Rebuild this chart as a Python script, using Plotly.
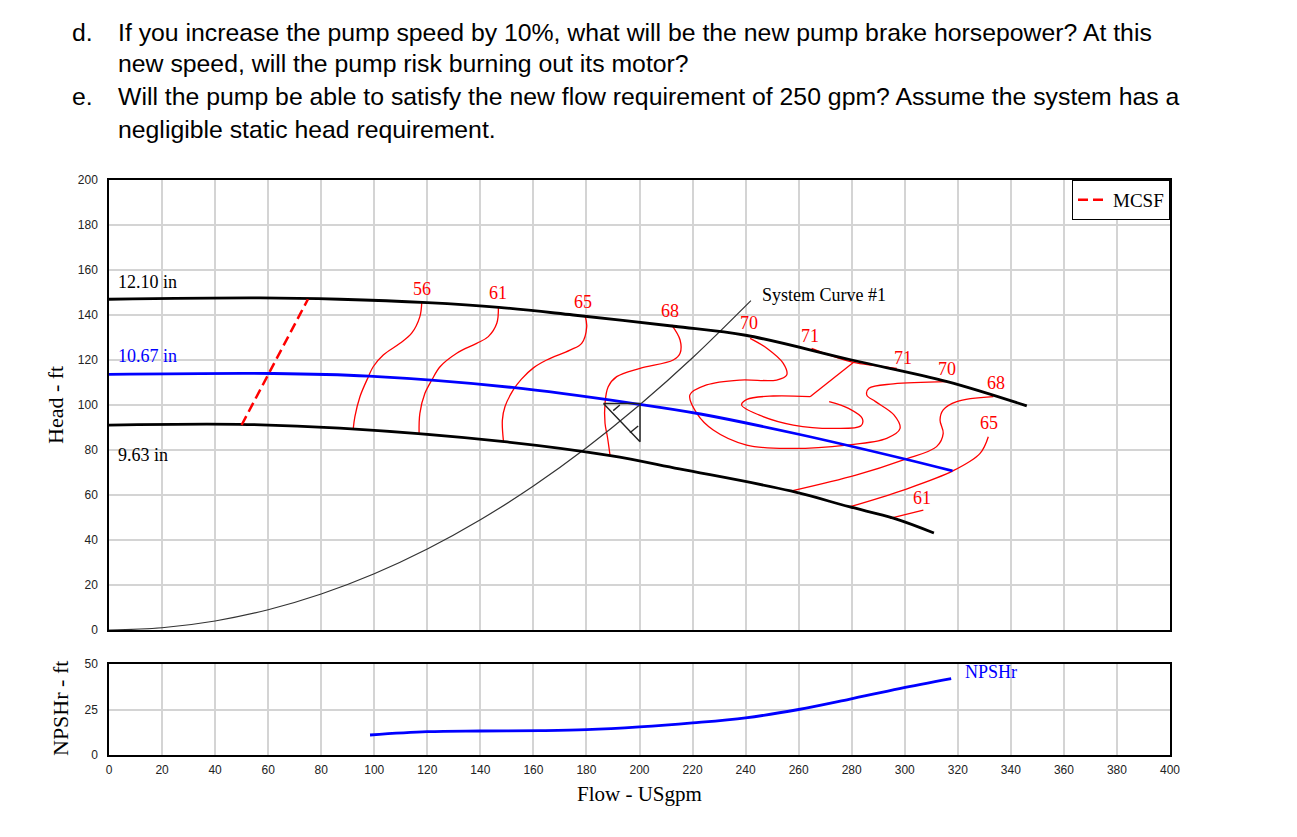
import plotly.graph_objects as go

# ---------------- data ----------------
# impeller curves (flow gpm, head ft)
d1210_q = [0, 57, 87, 120, 147, 175, 213, 240, 280, 316, 346]
d1210_h = [147, 147.6, 147, 145.5, 143.4, 140, 135, 131, 120, 110.4, 99.6]
d1067_q = [0, 62, 98, 152, 200, 223, 260, 300, 318]
d1067_h = [113.6, 114, 112.8, 107.8, 100.3, 96, 87, 76, 70.7]
d963_q = [0, 49, 87, 149, 189, 215, 257, 279, 296, 311]
d963_h = [91.1, 91.4, 89.7, 83.7, 77.5, 71.6, 61.8, 54.8, 49.6, 43.1]

# system curve #1
sys_q = [0, 20, 40, 60, 80, 100, 120, 140, 160, 180, 200, 220, 242]
sys_h = [0, 1, 4, 9, 16, 25, 36, 49, 64, 81, 100, 121, 146.4]

# MCSF line
mcsf_q = [50, 75]
mcsf_h = [91.1, 147]

# efficiency contours
c56_q = [117.9, 117.2, 114.1, 109.7, 103.4, 99.6, 97.8, 94.6, 92.7, 92.1]
c56_h = [145.5, 139.3, 131.9, 127.4, 122.2, 117.0, 112.6, 103.7, 94.8, 89.6]
c61_q = [146.8, 146.2, 143.0, 138.6, 131.1, 124.8, 121.7, 119.1, 117.2, 116.9]
c61_h = [143.4, 136.3, 130.4, 127.4, 123.0, 117.0, 111.1, 105.2, 96.3, 87.4]
c65_q = [179.5, 180.1, 178.2, 173.8, 165.0, 160.0, 155.5, 152.4, 149.3, 148.3, 148.7]
c65_h = [139.6, 134.8, 127.4, 124.4, 120.0, 116.5, 111.5, 106.7, 99.3, 93.3, 84.0]
c68_q = [212.1, 215.3, 215.3, 212.7, 200.2, 191.4, 188.2, 187.0, 187.0, 187.9, 188.9]
c68_h = [135.6, 128.9, 123.0, 120.0, 116.3, 112.6, 108.1, 100.7, 91.9, 85.9, 77.5]
c70_q = [241.7, 248.0, 254.2, 255.5, 251.7, 237.9, 225.3, 219.0, 221.6, 227.8, 240.4,
         256.7, 278.1, 293.2, 298.2, 296.0, 289.0, 285.7, 286.5, 295.7, 315.8]
c70_h = [129.6, 125.2, 118.5, 113.3, 111.1, 111.1, 108.9, 104.5, 96.3, 88.9, 82.2,
         80.7, 82.2, 85.2, 89.5, 95.5, 101.5, 104.4, 107.4, 109.4, 110.4]
c71a_q = [264.9, 272.5, 280.6, 289.0, 297.0]
c71a_h = [125.2, 121.8, 118.9, 117.5, 116.3]
c71b_q = [280.6, 264.3]
c71b_h = [118.9, 103.7]
c71c_q = [264.3, 250.4, 240.5, 238.5, 245.0, 258.0, 274.0, 283.5, 284.0, 278.8, 271.5]
c71c_h = [103.7, 104.0, 102.5, 100.0, 95.6, 91.1, 89.6, 90.8, 94.0, 98.5, 101.5]
c68r_q = [333.4, 319.6, 314.5, 313.3, 314.5, 312.0, 299.5, 281.9, 257.4]
c68r_h = [103.7, 101.5, 97.8, 93.3, 87.4, 81.5, 75.6, 68.9, 61.8]
c65r_q = [331.5, 328.4, 318.3, 299.5, 279.4]
c65r_h = [85.9, 78.5, 70.8, 62.2, 54.8]
c61r_q = [294.4, 307.0]
c61r_h = [49.6, 53.3]

# BEP marker
bep_q = [186.4, 200.2, 200.2, 186.4]
bep_h = [100.7, 100.7, 83.7, 100.7]
hatch1_q = [190.1, 192.6]
hatch1_h = [97.5, 100.0]
hatch2_q = [196.4, 199.5]
hatch2_h = [87.7, 90.7]

# NPSHr curve
npsh_q = [98.4, 120, 140, 162.5, 180, 200, 220, 240, 260, 279, 298, 317.5]
npsh_v = [11.0, 12.8, 13.2, 13.4, 13.9, 15.4, 17.6, 20.4, 25.0, 30.6, 36.5, 42.0]

# labels
eff_labels = ["56", "61", "65", "68", "70", "71", "71", "70", "68", "65", "61"]
eff_lab_q = [118, 146.6, 178.7, 211.5, 241.3, 264.3, 299.3, 315.9, 334.4, 331.8, 306.5]
eff_lab_h = [151.6, 149.8, 145.8, 141.8, 136.4, 130.7, 120.9, 116.0, 109.8, 92.0, 58.7]

x_ticks = list(range(0, 401, 20))
y_ticks = list(range(0, 201, 20))
npsh_ticks = [0, 25, 50]

SERIF = "Liberation Serif, Times New Roman, serif"
SANS = "Liberation Sans, Arial, sans-serif"
NARROW = "Liberation Sans Narrow, Arial Narrow, Liberation Sans, sans-serif"

fig = go.Figure()

def line(q, h, color, width, shape="spline", dash="solid", name=None, legend=False, xa="x", ya="y"):
    fig.add_trace(go.Scatter(x=q, y=h, mode="lines", xaxis=xa, yaxis=ya,
                             line=dict(color=color, width=width, shape=shape, dash=dash),
                             name=name, showlegend=legend, hoverinfo="skip"))

# contours
RED = "#ff0000"
for q, h in [(c56_q, c56_h), (c61_q, c61_h), (c65_q, c65_h), (c68_q, c68_h),
             (c70_q, c70_h), (c71a_q, c71a_h), (c71c_q, c71c_h),
             (c68r_q, c68r_h), (c65r_q, c65r_h), (c61r_q, c61r_h)]:
    line(q, h, RED, 1.3)
line(c71b_q, c71b_h, RED, 1.3, shape="linear")

# system curve
line(sys_q, sys_h, "#333333", 1.2)

# impeller curves
line(d1210_q, d1210_h, "#000000", 2.8)
line(d963_q, d963_h, "#000000", 2.8)
line(d1067_q, d1067_h, "#0000ff", 2.8)

# BEP marker
line(bep_q, bep_h, "#222222", 1.4, shape="linear")
line(hatch1_q, hatch1_h, "#222222", 1.4, shape="linear")
line(hatch2_q, hatch2_h, "#222222", 1.4, shape="linear")

# MCSF
line(mcsf_q, mcsf_h, RED, 2.5, shape="linear", dash="10px,5px", name="MCSF", legend=True)

# NPSHr
line(npsh_q, npsh_v, "#0000ff", 2.8, xa="x2", ya="y2")

ann = []
for t, q, h in zip(eff_labels, eff_lab_q, eff_lab_h):
    ann.append(dict(x=q, y=h, xref="x", yref="y", text=t, showarrow=False,
                    font=dict(family=SERIF, size=18, color=RED)))

ann += [
    dict(x=2.5, y=154.7, xref="x", yref="y", text="12.10 in", xanchor="left", showarrow=False,
         font=dict(family=SERIF, size=18, color="#000000")),
    dict(x=2.5, y=121.8, xref="x", yref="y", text="10.67 in", xanchor="left", showarrow=False,
         font=dict(family=SERIF, size=18, color="#0000ff")),
    dict(x=2.5, y=77.8, xref="x", yref="y", text="9.63 in", xanchor="left", showarrow=False,
         font=dict(family=SERIF, size=18, color="#000000")),
    dict(x=245.5, y=148.9, xref="x", yref="y", text="System Curve #1", xanchor="left", showarrow=False,
         font=dict(family=SERIF, size=18, color="#000000")),
    dict(x=322, y=45.6, xref="x2", yref="y2", text="NPSHr", xanchor="left", showarrow=False,
         font=dict(family=SERIF, size=18, color="#0000ff")),
]

def px(xp):
    return (xp - 109) / 1061.0

def py(yp):
    return (755 - yp) / 575.0

qfont = dict(family=SANS, size=24.8, color="#000000")
def qtext(x, y, t):
    return dict(x=px(x), y=py(y), xref="paper", yref="paper", text=t, xanchor="left",
                yanchor="middle", showarrow=False, font=qfont)

ann += [
    qtext(70, 32, "d."),
    qtext(116, 32, "If you increase the pump speed by 10%, what will be the new pump brake horsepower? At this"),
    qtext(116, 64, "new speed, will the pump risk burning out its motor?"),
    qtext(70, 97, "e."),
    qtext(116, 97, "Will the pump be able to satisfy the new flow requirement of 250 gpm? Assume the system has a"),
    qtext(116, 129, "negligible static head requirement."),
    dict(x=px(55), y=py(405), xref="paper", yref="paper", text="Head - ft", textangle=-90, showarrow=False,
         xanchor="center", yanchor="middle", font=dict(family=SERIF, size=22, color="#000000")),
    dict(x=px(60), y=py(709), xref="paper", yref="paper", text="NPSHr - ft", textangle=-90, showarrow=False,
         xanchor="center", yanchor="middle", font=dict(family=SERIF, size=22, color="#000000")),
    dict(x=px(639), y=py(794), xref="paper", yref="paper", text="Flow - USgpm", showarrow=False,
         xanchor="center", yanchor="middle", font=dict(family=SERIF, size=21, color="#000000")),
]

GRID = "rgb(212,212,212)"
axis_common = dict(showline=True, linecolor="#000000", linewidth=1.5, mirror=True,
                   showgrid=True, gridcolor=GRID, gridwidth=1.5, zeroline=False,
                   ticks="", tickfont=dict(family=NARROW, size=12, color="#222222"))

fig.update_layout(
    width=1297, height=837,
    margin=dict(l=109, r=127, t=180, b=82),
    paper_bgcolor="white", plot_bgcolor="white",
    xaxis=dict(domain=[0, 1], range=[0, 400], tickvals=x_ticks, showticklabels=False,
               anchor="y", matches="x2", **axis_common),
    yaxis=dict(domain=[(755 - 630) / 575.0, 1], range=[0, 200], tickvals=y_ticks, anchor="x",
               ticklabelstandoff=7, **axis_common),
    xaxis2=dict(domain=[0, 1], range=[0, 400], tickvals=x_ticks, anchor="y2",
                ticklabelstandoff=3, **axis_common),
    yaxis2=dict(domain=[0, (755 - 664) / 575.0], range=[0, 50], tickvals=npsh_ticks, anchor="x2",
                ticklabelstandoff=7, **axis_common),
    legend=dict(x=1, y=1, xanchor="right", yanchor="top", xref="paper", yref="paper",
                bgcolor="white", bordercolor="#000000", borderwidth=1,
                font=dict(family=SERIF, size=19, color="#000000"),
                itemwidth=30, tracegroupgap=0),
    annotations=ann,
    showlegend=True,
)

fig.write_html("out.html")
